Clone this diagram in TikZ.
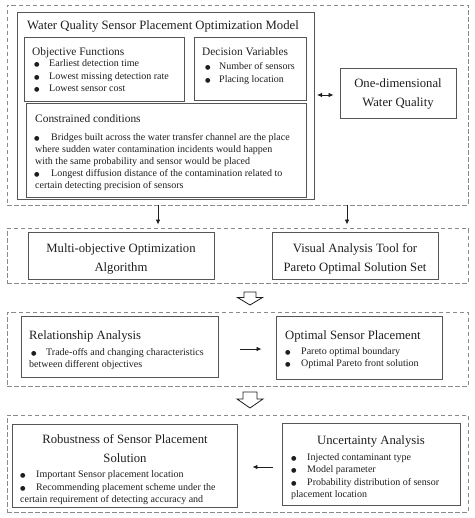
\documentclass[tikz,border=0pt]{standalone}
\usepackage{fontspec}
\setmainfont{Liberation Serif}
\newfontfamily\dejavu{DejaVu Sans}
\usetikzlibrary{arrows.meta,calc}
\definecolor{ink}{HTML}{1E1E1E}
\definecolor{boxline}{HTML}{555555}
\definecolor{dashline}{HTML}{8A8A8A}
\newcommand\bul[1]{\makebox[#1][l]{{\dejavu\fontsize{6.3}{7}\selectfont ●}}}
\begin{document}
\begin{tikzpicture}[x=1pt,y=-1pt,
  solidbox/.style={draw=boxline,line width=0.9pt,inner sep=0pt},
  dashbox/.style={draw=dashline,line width=0.9pt,dash pattern=on 4.5pt off 2.5pt,inner sep=0pt},
  txt/.style={text=ink,inner sep=0pt,anchor=base west,font=\fontsize{10}{12}\selectfont},
  ctxt/.style={text=ink,inner sep=0pt,anchor=base,font=\fontsize{12.7}{15}\selectfont},
  head/.style={text=ink,inner sep=0pt,anchor=base west,font=\fontsize{12.7}{15}\selectfont},
  shead/.style={text=ink,inner sep=0pt,anchor=base west,font=\fontsize{11.4}{14}\selectfont},
  arr/.style={draw=ink,line width=0.8pt,-{Latex[length=5pt,width=4.5pt]}},
  darr/.style={draw=ink,line width=0.8pt,{Latex[length=5pt,width=4.5pt]}-{Latex[length=5pt,width=4.5pt]}},
  hollow/.style={draw=ink,line width=0.8pt,fill=white,line join=miter}
]
\useasboundingbox (0,0) rectangle (474,518);
% box macro: style, name, x1, y1, x2, y2
\newcommand\mybox[6]{\node[#1,minimum width={(#5-#3)*1pt},minimum height={(#6-#4)*1pt}] (#2) at ({(#3+#5)/2},{(#4+#6)/2}) {};}

% ---------- stage 1 ----------
\mybox{dashbox}{d1}{7}{5}{468}{205}
\mybox{solidbox}{model}{17}{12}{314}{199}
\node[ctxt] (title) at (163,30) {Water Quality Sensor Placement Optimization Model};
\mybox{solidbox}{obj}{24}{37}{184}{101}
\node[shead] (objh) at (32,56) {Objective Functions};
\node[txt] (o1) at (34,67) {\bul{15pt}Earliest detection time};
\node[txt] (o2) at (34,80) {\bul{15pt}Lowest missing detection rate};
\node[txt] (o3) at (34,92) {\bul{15pt}Lowest sensor cost};
\mybox{solidbox}{dec}{194}{37}{306}{100}
\node[shead] (dech) at (202,56) {Decision Variables};
\node[txt] (v1) at (205,70) {\bul{14pt}Number of sensors};
\node[txt] (v2) at (205,83) {\bul{14pt}Placing location};
\mybox{solidbox}{con}{26}{103}{306}{197}
\node[shead] (conh) at (35,123) {Constrained conditions};
\node[txt] (c1) at (34,141) {\bul{17pt}Bridges built across the water transfer channel are the place};
\node[txt] (c2) at (35,153) {where sudden water contamination incidents would happen};
\node[txt] (c3) at (35,165) {with the same probability and sensor would be placed};
\node[txt] (c4) at (34,177) {\bul{17pt}Longest diffusion distance of the contamination related to};
\node[txt] (c5) at (35,189) {certain detecting precision of sensors};
\mybox{solidbox}{od}{340}{68}{456}{118}
\node[ctxt] (od1) at (398,88) {One-dimensional};
\node[ctxt] (od2) at (398,107) {Water Quality};
\coordinate (dA) at (314,95);
\draw[darr,shorten <=3pt,shorten >=6pt] (dA) -- (dA -| od.west);

% ---------- stage 2 ----------
\mybox{dashbox}{d2}{7}{228}{468}{283}
\mybox{solidbox}{moa}{28}{232}{214}{279}
\node[ctxt] (moa1) at (121,252) {Multi-objective Optimization};
\node[ctxt] (moa2) at (121,271) {Algorithm};
\mybox{solidbox}{vat}{272}{232}{438}{279}
\node[ctxt] (vat1) at (355,252) {Visual Analysis Tool for};
\node[ctxt] (vat2) at (355,271) {Pareto Optimal Solution Set};
\coordinate (a1) at (158,205);
\coordinate (a2) at (347,205);
\draw[arr,shorten >=3pt] (a1) -- (a1 |- d2.north);
\draw[arr,shorten >=3pt] (a2) -- (a2 |- d2.north);

% hollow arrow 1
\coordinate (h1) at (250,292);
\draw[hollow] ($(h1)+(-6,0)$) -- ($(h1)+(6,0)$) -- ($(h1)+(6,5.5)$) -- ($(h1)+(12.5,5.5)$) -- ($(h1)+(0,13)$) -- ($(h1)+(-12.5,5.5)$) -- ($(h1)+(-6,5.5)$) -- cycle;

% ---------- stage 3 ----------
\mybox{dashbox}{d3}{7}{312}{468}{386}
\mybox{solidbox}{rel}{21}{316}{218}{377}
\node[head] (relh) at (29,339) {Relationship Analysis};
\node[txt] (r1) at (31,355) {\bul{15pt}Trade-offs and changing characteristics};
\node[txt] (r2) at (29,367) {between different objectives};
\mybox{solidbox}{osp}{276}{316}{442}{379}
\node[head] (osph) at (285,339) {Optimal Sensor Placement};
\node[txt] (p1) at (285,354) {\bul{16pt}Pareto optimal boundary};
\node[txt] (p2) at (285,366) {\bul{16pt}Optimal Pareto front solution};
\coordinate (b1) at (218,349);
\draw[arr,shorten <=22pt,shorten >=14pt] (b1) -- (b1 -| osp.west);

% hollow arrow 2
\coordinate (h2) at (250,392);
\draw[hollow] ($(h2)+(-7,0)$) -- ($(h2)+(7,0)$) -- ($(h2)+(7,7)$) -- ($(h2)+(13,7)$) -- ($(h2)+(0,16)$) -- ($(h2)+(-13,7)$) -- ($(h2)+(-7,7)$) -- cycle;

% ---------- stage 4 ----------
\mybox{dashbox}{d4}{7}{415}{468}{512}
\mybox{solidbox}{rob}{12}{424}{237}{507}
\node[ctxt] (rob1) at (125,443) {Robustness of Sensor Placement};
\node[ctxt] (rob2) at (125,462) {Solution};
\node[txt] (s1) at (20,477) {\bul{16pt}Important Sensor placement location};
\node[txt] (s2) at (20,490) {\bul{16pt}Recommending placement scheme under the};
\node[txt] (s3) at (20,502) {certain requirement of detecting accuracy and};
\mybox{solidbox}{unc}{282}{423}{460}{505}
\node[head] (unch) at (317,444) {Uncertainty Analysis};
\node[txt] (u1) at (291,460) {\bul{16pt}Injected contaminant type};
\node[txt] (u2) at (291,472) {\bul{16pt}Model parameter};
\node[txt] (u3) at (291,485) {\bul{16pt}Probability distribution of sensor};
\node[txt] (u4) at (291,497) {placement location};
\coordinate (e1) at (282,467);
\draw[arr,shorten <=9pt,shorten >=15pt] (e1) -- (e1 -| rob.east);
\end{tikzpicture}
\end{document}
